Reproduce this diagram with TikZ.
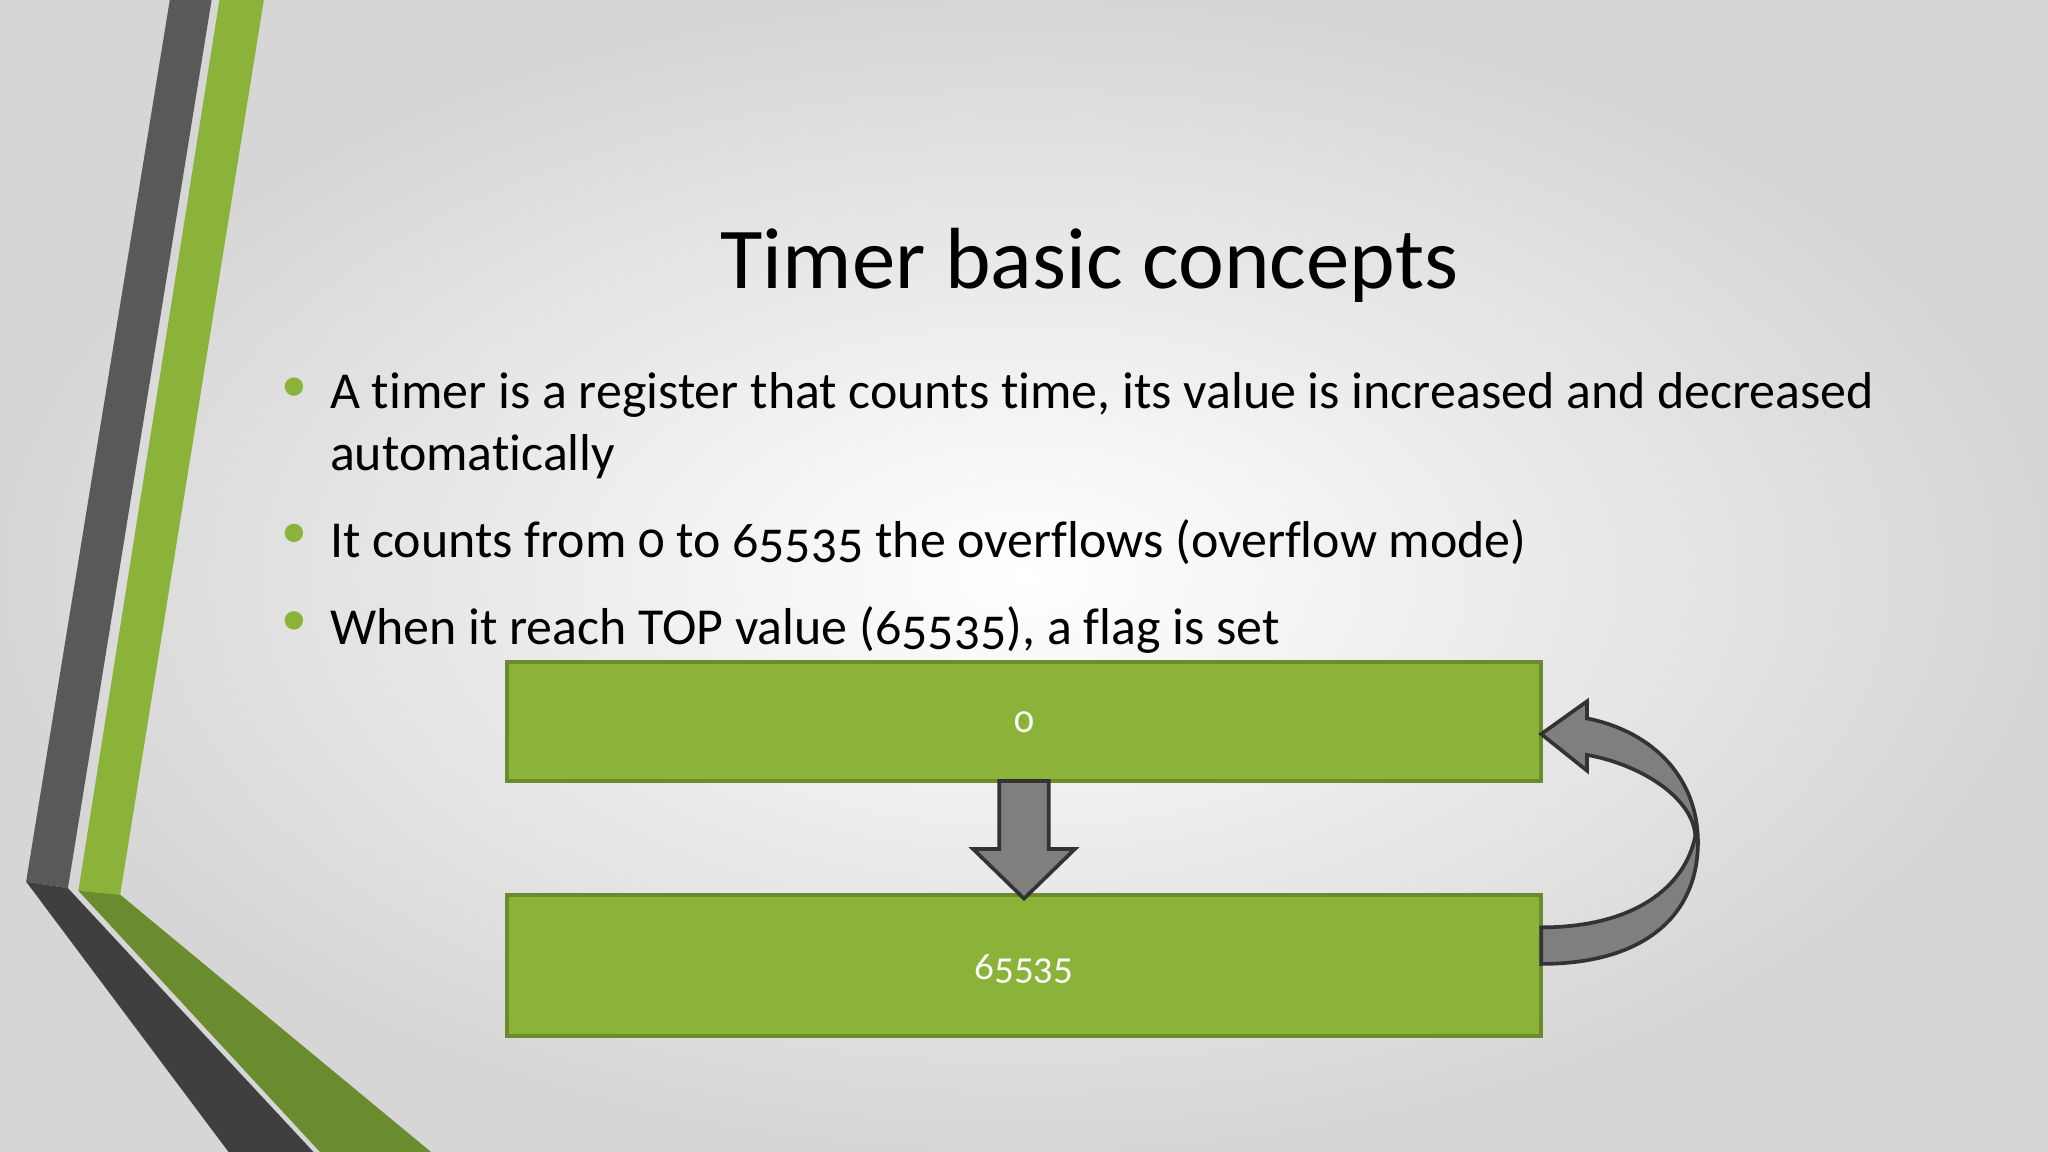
\documentclass[tikz,border=0pt]{standalone}
\usepackage{fontspec}
\setmainfont[Numbers=OldStyle,Ligatures=NoCommon]{Carlito}
\definecolor{lgreen}{HTML}{8BB33A}
\definecolor{dgreen}{HTML}{6A8C2E}
\definecolor{dgray}{HTML}{595959}
\definecolor{bgray}{HTML}{3F3F3F}
\definecolor{arrowgray}{HTML}{7F7F7F}
\tikzset{
 box/.style={draw=dgreen,fill=lgreen,line width=0.8pt},
 garrow/.style={draw=black!80,fill=arrowgray,line width=0.8pt},
 bullettext/.style={anchor=west,font=\fontsize{11.3}{14}\selectfont,inner sep=0},
 dot/.style={circle,fill=lgreen,minimum size=4pt,inner sep=0}
}
\begin{document}
\begin{tikzpicture}[x=0.01cm,y=-0.01cm]
\useasboundingbox (0,0) rectangle (1568,882);
\shade[inner color=white,outer color=black!16] (0,0) rectangle (1568,882);
% decorations
\fill[dgray] (130,0) -- (162,0) -- (52,680) -- (20,675) -- cycle;
\fill[bgray] (20,675) -- (52,680) -- (240,882) -- (175,882) -- cycle;
\fill[lgreen] (168,0) -- (202,0) -- (92,685) -- (60,682) -- cycle;
\fill[dgreen] (60,682) -- (92,685) -- (330,882) -- (245,882) -- cycle;
% title
\node[font=\fontsize{18.9}{22}\selectfont] (title) at (834,203) {Timer basic concepts};
% bullets
\node[dot] (d1) at (225,296) {};
\node[bullettext] (b1) at (252,302) {A timer is a register that counts time, its value is increased and decreased};
\node[bullettext] (b1b) at (252,350) {automatically};
\node[dot] (d2) at (225,408) {};
\node[bullettext] (b2) at (252,415) {It counts from 0 to 65535 the overflows (overflow mode)};
\node[dot] (d3) at (225,475) {};
\node[bullettext] (b3) at (252,482) {When it reach TOP value (65535), a flag is set};
% boxes
\draw[box] (388,507) rectangle (1180,598);
\node[text=white,font=\fontsize{8.5}{10}\selectfont] (zero) at (784,553) {0};
\draw[box] (388,685) rectangle (1180,793);
\node[text=white,font=\fontsize{8.5}{10}\selectfont] (top) at (784,742) {65535};
% down arrow
\draw[garrow] (765,598) -- (803,598) -- (803,650) -- (823,650) -- (784,688) -- (745,650) -- (765,650) -- cycle;
% curved arrow
\draw[garrow] (1180,738) .. controls (1260,738) and (1300,700) .. (1300,645)
 .. controls (1300,595) and (1265,560) .. (1215,550) -- (1215,537) -- (1180,562) -- (1215,590) -- (1215,578)
 .. controls (1255,585) and (1296,610) .. (1298,640)
 .. controls (1290,680) and (1250,710) .. (1180,710) -- cycle;
\end{tikzpicture}
\end{document}
